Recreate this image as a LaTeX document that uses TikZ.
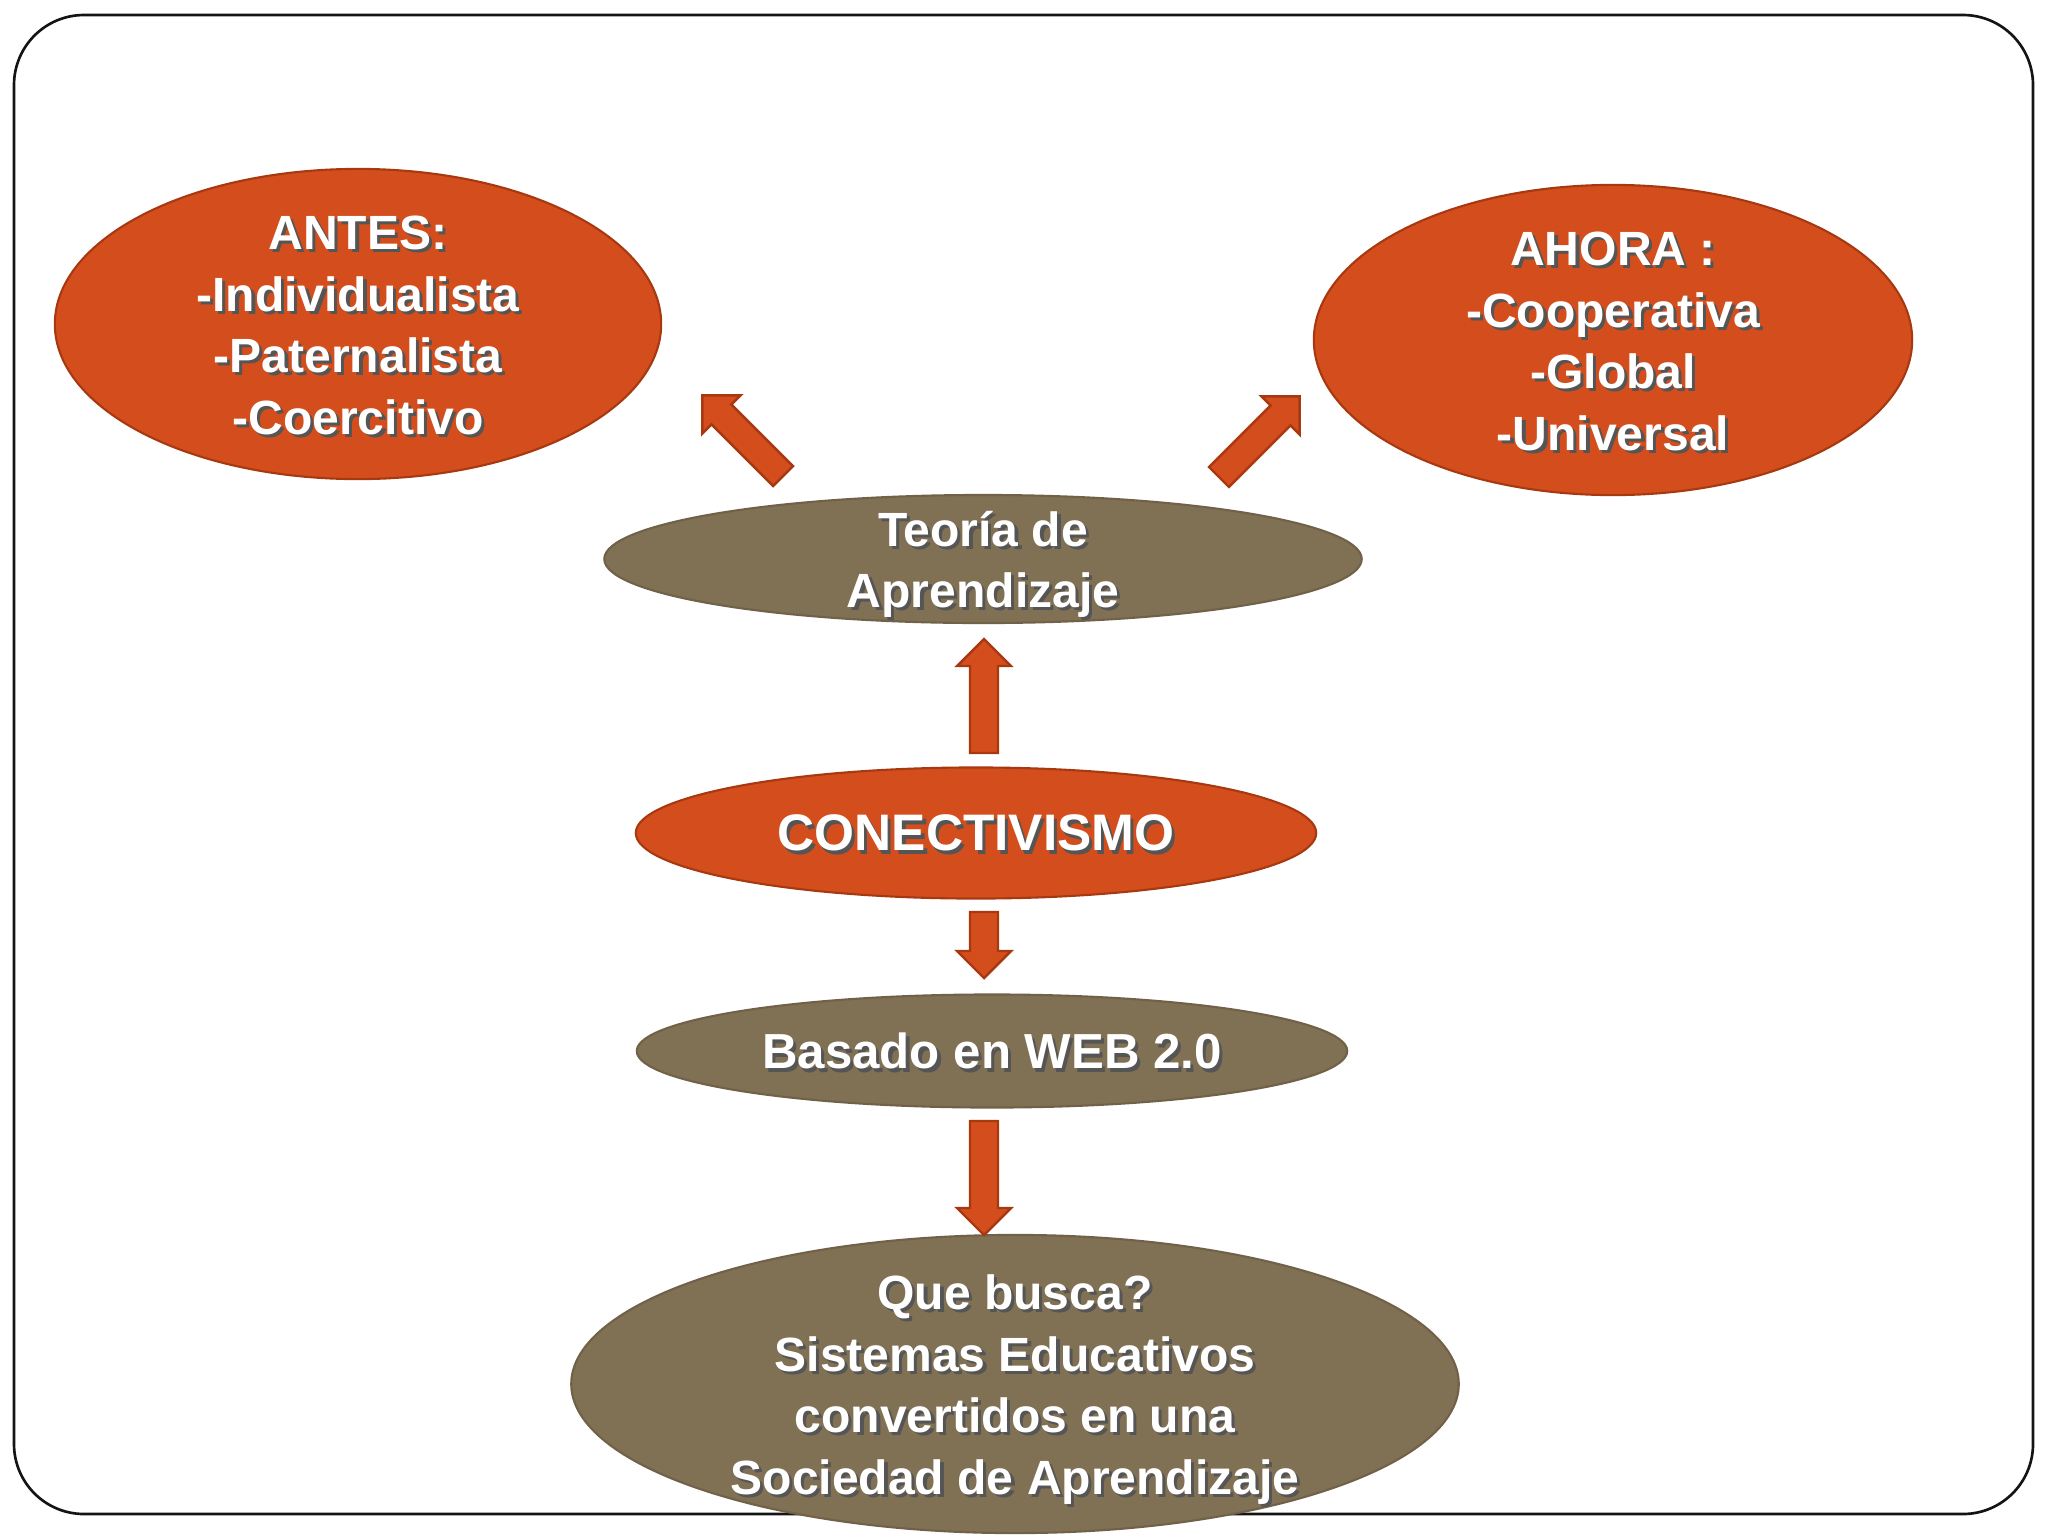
\documentclass[tikz,border=0pt]{standalone}
\usepackage{fontspec}
\setmainfont{Liberation Sans}
\usetikzlibrary{shapes.geometric}
\definecolor{orng}{RGB}{211,78,28}
\definecolor{orngline}{RGB}{168,56,16}
\definecolor{brwn}{RGB}{128,112,84}
\definecolor{brwnline}{RGB}{112,97,72}
\definecolor{shadowc}{RGB}{85,85,85}
\definecolor{framec}{RGB}{20,20,20}
\newcommand\shd[1]{\rlap{\kern0.9pt\raisebox{-0.9pt}{\textcolor{shadowc}{#1}}}#1}
\newcommand\ctext[1]{\raisebox{-5.2pt}[0pt][0pt]{\makebox[0pt]{\begin{tabular}{@{}c@{}}#1\end{tabular}}}}
\newcommand\blockarr[3]{\begin{scope}[shift={#1},rotate=#2]
  \filldraw[barrow] (0,-14) -- ({#3-27},-14) -- ({#3-27},-27) -- (#3,0) -- ({#3-27},27) -- ({#3-27},14) -- (0,14) -- cycle;
\end{scope}}
\begin{document}
\begin{tikzpicture}[x=0.01cm,y=-0.01cm,
  ell/.style={ellipse, inner sep=0pt, text=white, line width=0.6pt,
    font=\fontsize{13.66}{17.5}\selectfont\bfseries},
  orangeell/.style={ell, fill=orng, draw=orngline},
  brownell/.style={ell, fill=brwn, draw=brwnline},
  barrow/.style={fill=orng, draw=orngline, line width=0.7pt, line join=miter},
  frame/.style={draw=framec, line width=0.75pt, rounded corners=0.7cm}]
\useasboundingbox (0,0) rectangle (2048,1536);
\fill[white] (0,0) rectangle (2048,1536);
\draw[frame] (14,15) rectangle (2033,1514);

\node[orangeell, minimum width=6.06cm, minimum height=3.10cm] (antes) at (358,324)
  {\ctext{\shd{ANTES:}\\\shd{-Individualista}\\\shd{-Paternalista}\\\shd{-Coercitivo}}};
\node[orangeell, minimum width=5.98cm, minimum height=3.10cm] (ahora) at (1613,340)
  {\ctext{\shd{AHORA :}\\\shd{-Cooperativa}\\\shd{-Global}\\\shd{-Universal}}};
\node[brownell, minimum width=7.57cm, minimum height=1.28cm] (teoria) at (983,559)
  {\ctext{\shd{Teoría de}\\\shd{Aprendizaje}}};
\node[orangeell, minimum width=6.80cm, minimum height=1.31cm,
  font=\fontsize{14.6}{17.5}\selectfont\bfseries] (con) at (976,833)
  {\ctext{\shd{CONECTIVISMO}}};
\node[brownell, minimum width=7.10cm, minimum height=1.13cm,
  font=\fontsize{14.0}{17.5}\selectfont\bfseries] (web) at (992,1051)
  {\ctext{\shd{Basado en WEB 2.0}}};
\node[brownell, minimum width=8.87cm, minimum height=2.98cm] (busca) at (1015,1384)
  {\ctext{\shd{Que busca?}\\\shd{Sistemas Educativos}\\\shd{convertidos en una}\\\shd{Sociedad de Aprendizaje}}};

\blockarr{(783,476)}{135}{114}
\blockarr{(1219,477)}{45}{114}
\blockarr{(984,753)}{90}{114}
\blockarr{(984,912)}{-90}{66}
\blockarr{(984,1121)}{-90}{114}
\end{tikzpicture}
\end{document}
